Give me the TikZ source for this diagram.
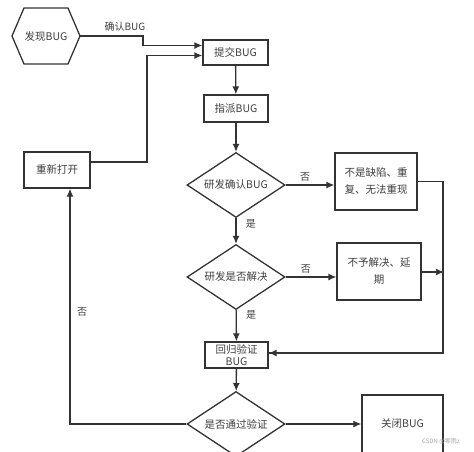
\documentclass[tikz,border=0pt]{standalone}
\usepackage{fontspec}
\setmainfont{Noto Sans CJK SC}
\usetikzlibrary{shapes.geometric,arrows.meta,calc}
\definecolor{ln}{HTML}{333333}
\definecolor{tx}{HTML}{404040}
\begin{document}
\begin{tikzpicture}[x=1pt,y=-1pt,
  every node/.style={text=tx,font=\fontsize{10.5}{13}\selectfont},
  box/.style={draw=ln,line width=1.3pt,rectangle,inner sep=1pt,align=center},
  dia/.style={draw=ln,line width=1.3pt,diamond,aspect=1.5,inner sep=0pt,minimum width=98pt,minimum height=65pt},
  arr/.style={draw=ln,line width=1.3pt,-{Latex[length=8pt,width=7pt]}},
  ln/.style={draw=ln,line width=1.3pt},
  lbl/.style={font=\fontsize{10}{12}\selectfont}]
\useasboundingbox (0,0) rectangle (474,451);
\fill[white] (0,0) rectangle (474,451);
\clip (0,0) rectangle (474,451);
% hexagon
\coordinate (hexL) at (12,36);
\coordinate (hexR) at (80,36);
\draw[ln] (hexL) -- (24,8) -- (68,8) -- (hexR) -- (68,64) -- (24,64) -- cycle;
\node (hex) at (46,36) {发现BUG};
% boxes
\node[box,minimum width=65pt,minimum height=25pt] (submit) at (235.5,52.5) {提交BUG};
\node[box,minimum width=64pt,minimum height=27pt] (assign) at (236,108.5) {指派BUG};
\node[box,minimum width=66pt,minimum height=36pt] (reopen) at (57,170) {重新打开};
\node[dia] (d1) at (236,185) {研发确认BUG};
\node[box,minimum width=82pt,minimum height=57pt,text width=72pt,font=\fontsize{10.5}{17}\selectfont] (b1) at (376,181.5) {不是缺陷、重\\复、无法重现};
\node[dia] (d2) at (236,277) {研发是否解决};
\node[box,minimum width=84pt,minimum height=57pt,text width=72pt,font=\fontsize{10.5}{17}\selectfont] (b2) at (379,271.5) {不予解决、延\\期};
\node[box,minimum width=63pt,minimum height=26pt,inner sep=0pt,font=\fontsize{10.5}{11.5}\selectfont] (verify) at (236.5,355) {回归验证\\BUG};
\node[dia] (d3) at (236,424) {是否通过验证};
\node[box,minimum width=81pt,minimum height=64pt] (close) at (402.5,427) {};
\node at (402.5,424) {关闭BUG};
% connectors
\draw[arr] (hexR) -- (143,36) |- ([yshift=7pt]submit.west);
\node[lbl] (l0) at (125,27) {确认BUG};
\draw[arr] ([yshift=8pt]reopen.east) -- (147,162) |- ([yshift=-3pt]submit.west);
\draw[arr] (submit) -- (assign);
\draw[arr] (assign) -- (d1);
\draw[arr] (d1) -- node[lbl,above,pos=0.4] {否} (b1.west |- d1.east);
\draw[arr] (d1) -- node[lbl,pos=0.22,right,xshift=6pt] {是} (d2);
\draw[arr] (d2) -- node[lbl,above,pos=0.4] {否} (b2.west |- d2.east);
\coordinate (j) at (443,272);
\draw[ln] (b1.east) -- (443,181.5) |- ([yshift=2pt]verify.east);
\draw[arr,shorten >=-1pt] (b2.east |- j) -- (j);
\draw[arr] (443,300) |- ([yshift=2pt]verify.east);
\draw[arr] (d2) -- node[lbl,pos=0.15,right,xshift=6pt] {是} (verify);
\draw[arr] (verify) -- (d3);
\draw[arr] (d3) -- (close.west |- d3.east);
\draw[arr] (d3.west) -- (70,424) -- (reopen.south -| 70,0);
\node[lbl] (l5) at (82,312) {否};
\node[text=gray!70,font=\fontsize{6}{7}\selectfont] (wm) at (441,442) {CSDN @零雨z};
\end{tikzpicture}
\end{document}
